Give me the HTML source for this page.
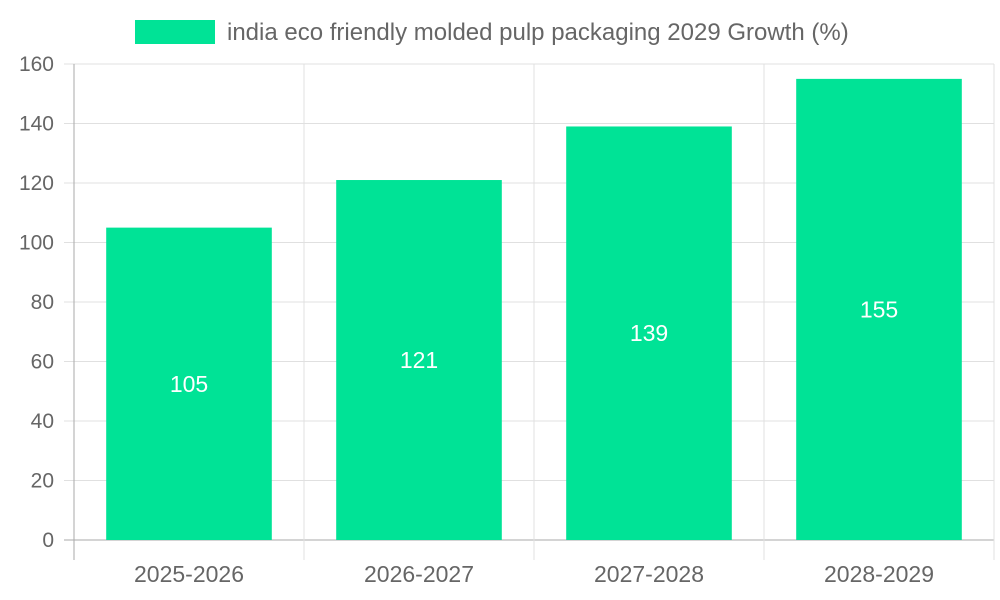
<!DOCTYPE html>
<html><head><meta charset="utf-8"><style>
html,body{margin:0;padding:0;background:#fff;}
svg{display:block;font-family:"Liberation Sans",sans-serif;}
</style></head><body>
<svg id="chart" width="1000" height="600">
<g id="grid"></g>
<g id="bars"></g>
<g id="legend">
<rect x="135" y="20" width="80" height="24" fill="#00e396"/>
<text x="227" y="40" font-size="24" fill="#666">india eco friendly molded pulp packaging 2029 Growth (%)</text>
</g>
</svg>
<script>
const categories = ["2025-2026","2026-2027","2027-2028","2028-2029"];
const values = [105,121,139,155];
const yTicks = [0,20,40,60,80,100,120,140,160];

(function(){
const NS="http://www.w3.org/2000/svg";
const pL=74,pR=994,pT=64,pB=540,yMax=160;
const bandW=(pR-pL)/categories.length;
function yS(v){return pB-(v/yMax)*(pB-pT);}
function xBand(i){return pL+i*bandW;}
function mk(tag,attrs,parent,text){const e=document.createElementNS(NS,tag);for(const k in attrs)e.setAttribute(k,attrs[k]);if(text!==undefined)e.textContent=text;parent.appendChild(e);return e;}
const grid=document.getElementById('grid'),bars=document.getElementById('bars');
yTicks.forEach(t=>{
  const l=mk('line',{x1:64,x2:pR,y1:yS(t),y2:yS(t),stroke:t===0?'#aaa':'#e0e0e0','stroke-width':1},grid);
  
  
  const tx=mk('text',{x:54,y:yS(t)+7,'text-anchor':'end','font-size':21,fill:'#666'},grid,String(t));
  
  
});
for(let i=0;i<=categories.length;i++){
  const l=mk('line',{x1:xBand(i),x2:xBand(i),y1:pT,y2:560,stroke:i===0?'#aaa':'#e0e0e0','stroke-width':1},grid);
  
  
}
categories.forEach((c,i)=>{
  const bw=bandW*0.72,cx=xBand(i)+bandW/2;
  const r=mk('rect',{x:cx-bw/2,y:yS(values[i]),width:bw,height:pB-yS(values[i]),fill:'#00e396'},bars);
  
  
  const v=mk('text',{x:cx,y:(yS(values[i])+pB)/2+8,'text-anchor':'middle','font-size':23,fill:'#fff'},bars,String(values[i]));
  
  
  const lab=mk('text',{x:cx,y:582,'text-anchor':'middle','font-size':23,fill:'#666'},bars,c);
  
  
});
})();
</script>
</body></html>
